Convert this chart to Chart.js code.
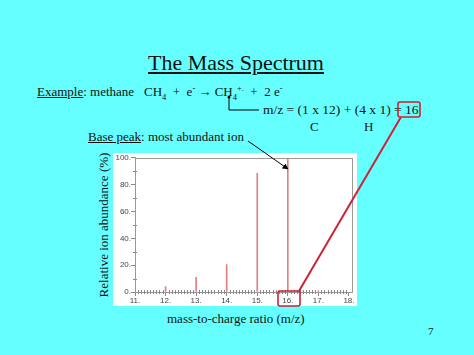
<!DOCTYPE html>
<html>
<head>
<meta charset="utf-8">
<script src="https://cdn.jsdelivr.net/npm/chart.js@4/dist/chart.umd.min.js"></script>
<style>
  html, body { margin:0; padding:0; }
  body { width:474px; height:355px; background:#66ffff; position:relative; overflow:hidden;
         font-family:"Liberation Serif","Times New Roman",serif; color:#111; }
  .t { position:absolute; white-space:pre; line-height:1; }
  sub, sup { font-size:65%; line-height:0; }
  #box { position:absolute; left:113px; top:153px; width:244px; height:153px; background:#fff; }
  #ov { position:absolute; left:0; top:0; }
</style>
</head>
<body>
<div class="t" style="left:148px; top:52px; font-size:22px; text-decoration:underline;">The Mass Spectrum</div>
<div class="t" style="left:37px; top:85px; font-size:13px;"><u>Example</u>: methane</div>
<div class="t" style="left:144px; top:85px; font-size:13px;">CH<sub>4</sub>  +  e<sup>-</sup> → CH<sub>4</sub><sup>+.</sup>  +  2 e<sup>-</sup></div>
<div class="t" style="left:263px; top:103px; font-size:13.5px;">m/z = (1 x 12) + (4 x 1) = 16</div>
<div class="t" style="left:310px; top:120px; font-size:13px;">C</div>
<div class="t" style="left:364px; top:120px; font-size:13px;">H</div>
<div class="t" style="left:88px; top:130px; font-size:13px;"><u>Base peak</u>: most abundant ion</div>
<div class="t" style="left:103px; top:225px; font-size:13px; transform:translate(-50%,-50%) rotate(-90deg);">Relative ion abundance (%)</div>
<div class="t" style="left:167px; top:312px; font-size:13px;">mass-to-charge ratio (m/z)</div>
<div class="t" style="left:428px; top:326px; font-size:11px;">7</div>

<div id="box"><canvas id="c" width="244" height="153"></canvas></div>

<svg id="ov" width="474" height="355">
  <defs>
    <marker id="ah" viewBox="0 0 10 10" refX="9" refY="5" markerWidth="6" markerHeight="6" orient="auto">
      <path d="M0,0 L10,5 L0,10 z" fill="#000"/>
    </marker>
  </defs>
  <polyline points="229,97 229,110 259,110" fill="none" stroke="#000" stroke-width="1"/>
  <circle cx="229" cy="97" r="1.5" fill="#000"/>
  <line x1="248" y1="141" x2="288" y2="169" stroke="#000" stroke-width="1" marker-end="url(#ah)"/>
  <rect x="398" y="102" width="22" height="15" rx="2" fill="none" stroke="#cc2233" stroke-width="1.6"/>
  <rect x="278" y="291" width="22" height="15" rx="2" fill="none" stroke="#cc2233" stroke-width="1.6"/>
  <line x1="401" y1="117" x2="299" y2="291" stroke="#cc2233" stroke-width="2"/>
</svg>

<script>
const mzValues = [12, 13, 14, 15, 16, 17];
const abundance = [4, 11, 20.5, 88.5, 100, 1.1];
const xRange = [11, 18.1];
const yRange = [0, 100];

const framePlugin = {
  id: 'frame',
  afterDraw(chart) {
    const {ctx, chartArea: a, scales: {x, y}} = chart;
    ctx.save();
    ctx.strokeStyle = '#999';
    ctx.lineWidth = 1;
    ctx.strokeRect(Math.round(a.left) + 0.5, Math.round(a.top) + 0.5,
                   Math.round(a.right - a.left), Math.round(a.bottom - a.top));
    ctx.strokeStyle = '#888';
    ctx.beginPath();
    for (let i = 111; i <= 180; i++) {
      if (i % 10 === 0) continue;
      const px = Math.round(x.getPixelForValue(i / 10)) + 0.5;
      ctx.moveTo(px, a.bottom - 2);
      ctx.lineTo(px, a.bottom + 2);
    }
    for (let v = 10; v < 100; v += 20) {
      const py = Math.round(y.getPixelForValue(v)) + 0.5;
      ctx.moveTo(a.left - 2, py);
      ctx.lineTo(a.left + 2, py);
    }
    ctx.stroke();
    ctx.restore();
  }
};

new Chart(document.getElementById('c'), {
  type: 'bar',
  data: {
    datasets: [{
      data: mzValues.map((m, i) => ({x: m, y: abundance[i]})),
      backgroundColor: '#e08080',
      barThickness: 1,
      borderWidth: 0
    }]
  },
  options: {
    responsive: false,
    animation: false,
    events: [],
    layout: { padding: { top: 3, right: 5, left: 0, bottom: 0 } },
    plugins: { legend: { display: false }, tooltip: { enabled: false } },
    scales: {
      x: {
        type: 'linear', min: xRange[0], max: xRange[1], offset: false,
        grid: { drawOnChartArea: false, tickLength: 4, color: '#888', offset: false },
        border: { display: true, color: '#999' },
        ticks: { stepSize: 1, includeBounds: false, autoSkip: false, maxRotation: 0,
                 padding: 0, color: '#444', font: { family: 'Liberation Sans', size: 8 },
                 callback: v => v + '.' },
        afterFit: s => { s.height = 14; }
      },
      y: {
        min: yRange[0], max: yRange[1],
        grid: { drawOnChartArea: false, tickLength: 4, color: '#888' },
        border: { display: true, color: '#999' },
        ticks: { stepSize: 20, padding: 0, color: '#444', font: { family: 'Liberation Sans', size: 8 },
                 callback: v => v + '.' },
        afterFit: s => { s.width = 22; }
      }
    }
  },
  plugins: [framePlugin]
});
</script>
</body>
</html>
